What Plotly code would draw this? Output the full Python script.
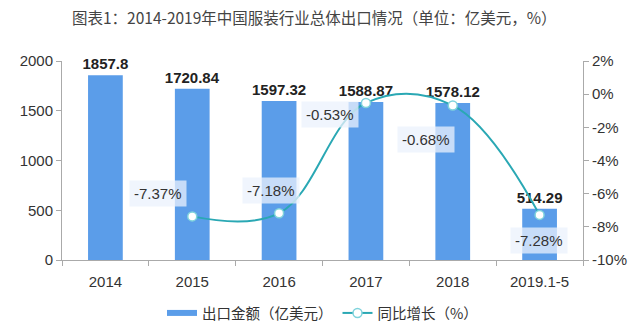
import plotly.graph_objects as go

categories = ["2014", "2015", "2016", "2017", "2018", "2019.1-5"]
export_values = [1857.8, 1720.84, 1597.32, 1588.87, 1578.12, 514.29]
yoy_growth = [None, -7.37, -7.18, -0.53, -0.68, -7.28]
bar_labels = ["1857.8", "1720.84", "1597.32", "1588.87", "1578.12", "514.29"]
left_ticks = [0, 500, 1000, 1500, 2000]
right_ticks = [2, 0, -2, -4, -6, -8, -10]

font_num = "Liberation Sans, Arial, sans-serif"
font_cjk = "Noto Sans CJK SC, sans-serif"
bar_color = "#5b9de9"

fig = go.Figure()
fig.add_trace(go.Bar(
    x=categories, y=export_values, name="出口金额（亿美元）", showlegend=False,
    marker=dict(color=bar_color, line=dict(width=0)),
    width=0.4,
    text=bar_labels, textposition="outside", cliponaxis=False,
    constraintext="none",
    textfont=dict(family=font_num, size=15, color="#222222"),
    texttemplate="<b>%{text}</b>",
))
# legend-only entry drawn as a wide rectangle like the reference
fig.add_trace(go.Scatter(
    x=[None], y=[None], name="出口金额（亿美元）", mode="lines",
    line=dict(color=bar_color, width=6),
))
fig.add_trace(go.Scatter(
    x=categories, y=yoy_growth, name="同比增长（%）", yaxis="y2",
    mode="lines+markers",
    line=dict(color="#2aa8b4", width=2, shape="spline", smoothing=1.1),
    marker=dict(symbol="circle", size=9, color="#ffffff",
                line=dict(color="#7fd3dc", width=1.5)),
))

# percentage labels near points (offsets in px)
offsets = [None, (-34, 23), (-8, 23), (-36, -12), (-27, -34), (-1, -26)]
for i, (v, off) in enumerate(zip(yoy_growth, offsets)):
    if v is None:
        continue
    fig.add_annotation(
        x=i, y=v, yref="y2", xref="x", text=f"{v:.2f}%", showarrow=False,
        xshift=off[0], yshift=off[1],
        font=dict(family=font_num, size=15, color="#333333"),
        bgcolor="rgba(235,242,252,0.75)", borderpad=4,
    )

fig.update_layout(
    width=635, height=329,
    margin=dict(l=62, r=52, t=61, b=69, autoexpand=False),
    paper_bgcolor="white", plot_bgcolor="white",
    title=dict(text="图表1：2014-2019年中国服装行业总体出口情况（单位：亿美元，%）",
               x=0.495, xanchor="center", y=1 - 19 / 329, yanchor="middle",
               font=dict(family=font_cjk, size=15.5, color="#444444")),
    showlegend=True,
    legend=dict(orientation="h", x=0.5, xanchor="center",
                yref="container", y=1 - 313 / 329, yanchor="middle",
                font=dict(family=font_cjk, size=14.5, color="#333333"),
                tracegroupgap=0),
    xaxis=dict(
        type="category", range=[-0.5, 5.5], showline=True, linecolor="#aaaaaa", linewidth=1,
        ticks="outside", tickson="boundaries", ticklen=5, tickcolor="#aaaaaa",
        tickfont=dict(family=font_num, size=15, color="#333333"),
        showgrid=False, zeroline=False, tickangle=0, ticklabelstandoff=8,
    ),
    yaxis=dict(
        range=[0, 2000], tickvals=left_ticks, showgrid=False, zeroline=False,
        showline=True, linecolor="#aaaaaa", ticks="outside", ticklen=5,
        tickcolor="#aaaaaa",
        tickfont=dict(family=font_num, size=15, color="#333333"),
    ),
    yaxis2=dict(
        overlaying="y", side="right", range=[-10, 2], tickvals=right_ticks,
        ticktext=[f"{t}%" for t in right_ticks], showgrid=False, zeroline=False,
        showline=True, linecolor="#aaaaaa", ticks="outside", ticklen=5,
        tickcolor="#aaaaaa",
        tickfont=dict(family=font_num, size=15, color="#333333"),
    ),
    bargap=0.6,
)

fig.write_html("out.html")
